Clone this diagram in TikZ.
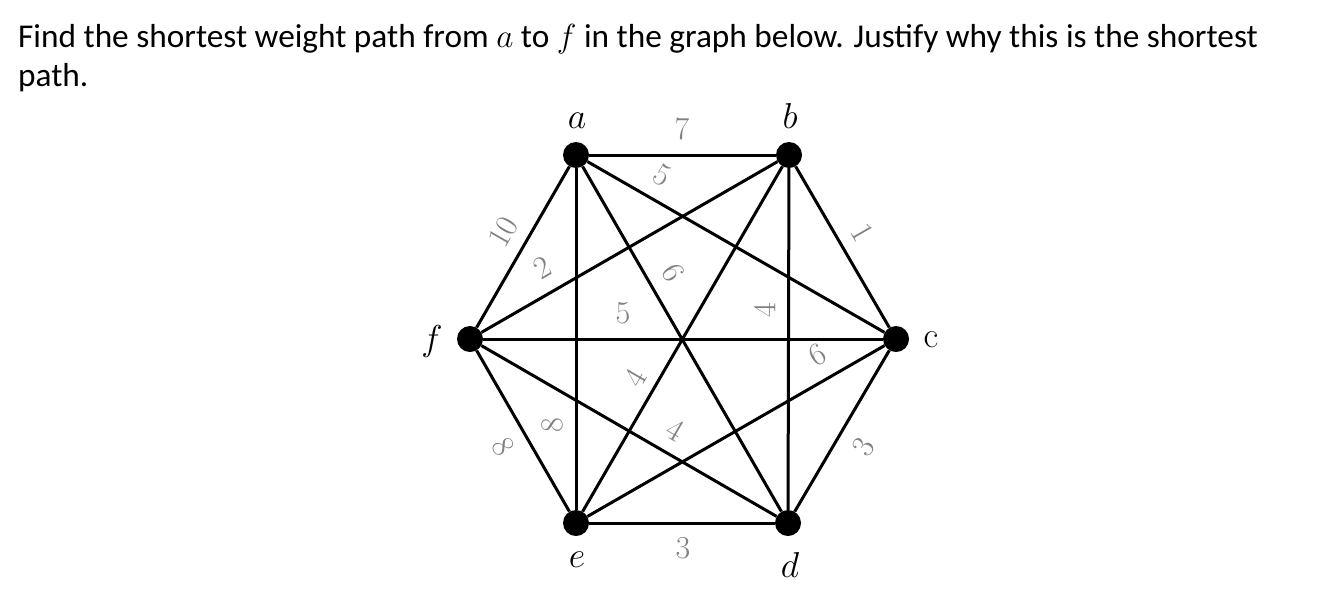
\RequirePackage{fix-cm}
\documentclass[tikz,border=0pt]{standalone}
\usepackage[no-math]{fontspec}
\setmainfont{Carlito}
\begin{document}
\begin{tikzpicture}[x=1pt,y=-1pt,
  vtx/.style={circle,fill=black,inner sep=0pt,minimum size=26pt},
  edge/.style={line width=3pt},
  wt/.style={text=black!50,font=\fontsize{32}{32}\selectfont,inner sep=0pt},
  vl/.style={font=\fontsize{36}{36}\selectfont,inner sep=0pt,anchor=base},
  qtext/.style={font=\fontsize{33.3}{40}\selectfont,inner sep=0pt,anchor=base west}]
\useasboundingbox[fill=white] (0,0) rectangle (1334,598);
\node[qtext] (q1) at (18,47) {Find the shortest weight path from $a$ to $f$ in the graph below. Justify why this is the shortest};
\node[qtext] (q2) at (18,86) {path.};
% vertices
\node[vtx] (a) at (576,155) {};
\node[vtx] (b) at (789,155) {};
\node[vtx] (c) at (896,339) {};
\node[vtx] (d) at (788,523) {};
\node[vtx] (e) at (576,523) {};
\node[vtx] (f) at (470,339) {};
% vertex labels
\node[vl] (la) at (577,128) {$a$};
\node[vl] (lb) at (790,128) {$b$};
\node[vl] (lc) at (931,347) {$\mathrm{c}$};
\node[vl] (ld) at (790,577) {$d$};
\node[vl] (le) at (577,567) {$e$};
\node[vl] (lf) at (432,350) {$f$};
% edges
\draw[edge] (a) -- (b);
\draw[edge] (a) -- (c);
\draw[edge] (a) -- (d);
\draw[edge] (a) -- (e);
\draw[edge] (a) -- (f);
\draw[edge] (b) -- (c);
\draw[edge] (b) -- (d);
\draw[edge] (b) -- (e);
\draw[edge] (b) -- (f);
\draw[edge] (c) -- (d);
\draw[edge] (c) -- (e);
\draw[edge] (c) -- (f);
\draw[edge] (d) -- (e);
\draw[edge] (d) -- (f);
\draw[edge] (e) -- (f);
% weights
\node[wt] (wab) at (682,129) {$7$};
\node[wt,rotate=-30] (wac) at (662,175) {$5$};
\node[wt,rotate=-60] (wad) at (673,273) {$6$};
\node[wt,rotate=90] (wae) at (552,425) {$8$};
\node[wt,rotate=60] (waf) at (503,232) {$10$};
\node[wt,rotate=-60] (wbc) at (862,233) {$1$};
\node[wt,rotate=90] (wbd) at (765,310) {$4$};
\node[wt,rotate=60] (wbe) at (635,378) {$4$};
\node[wt,rotate=30] (wbf) at (542,268) {$2$};
\node[wt,rotate=60] (wcd) at (863,447) {$3$};
\node[wt,rotate=30] (wce) at (817,355) {$6$};
\node[wt] (wcf) at (623,313) {$5$};
\node[wt] (wde) at (683,548) {$3$};
\node[wt,rotate=-30] (wdf) at (675,430) {$4$};
\node[wt,rotate=-60] (wef) at (503,447) {$8$};
\end{tikzpicture}
\end{document}
